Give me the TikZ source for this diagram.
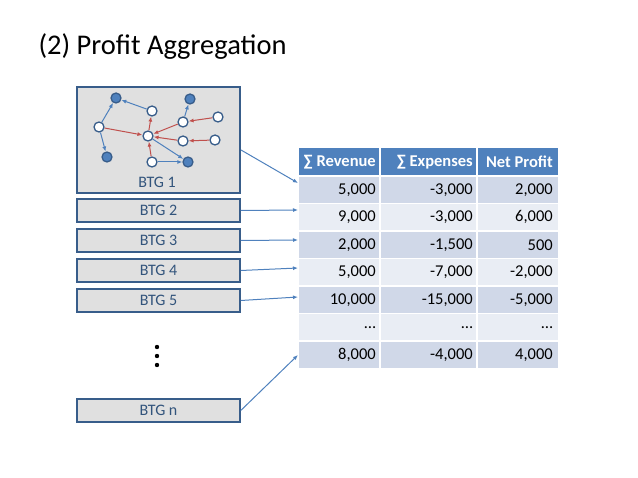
\documentclass[tikz,border=0pt]{standalone}
\usepackage{fontspec}
\setmainfont{Carlito}
\usetikzlibrary{arrows.meta}
\definecolor{hdr}{HTML}{4F81BD}
\definecolor{rowa}{HTML}{D0D8E8}
\definecolor{rowb}{HTML}{E9EDF4}
\definecolor{bord}{HTML}{385D8A}
\definecolor{redl}{HTML}{C0504D}
\begin{document}
\begin{tikzpicture}[x=1pt,y=-1pt,
  btg/.style={draw=bord,line width=1.5pt,fill=black!12,minimum width=163pt,minimum height=23pt,inner sep=0pt,font=\fontsize{16}{18}\selectfont,text=bord!90!black},
  gopen/.style={circle,draw=bord,line width=1.3pt,fill=white,minimum size=10pt,inner sep=0pt},
  gfill/.style={circle,draw=bord,line width=1.3pt,fill=hdr,minimum size=10pt,inner sep=0pt},
  be/.style={draw=hdr,line width=1pt,-{Latex[length=5pt,width=4pt]}},
  re/.style={draw=redl,line width=1pt,-{Latex[length=5pt,width=4pt]}},
  conn/.style={draw=hdr,line width=1pt,-{Latex[length=5pt,width=4pt]}},
  cell/.style={minimum height=26pt,inner sep=0pt,font=\fontsize{16.5}{18}\selectfont}]
\useasboundingbox (0,0) rectangle (638,478);
\node[anchor=west,font=\fontsize{28.5}{32}\selectfont] (title) at (35,47) {(2) Profit Aggregation};
% BTG boxes
\node[btg,minimum height=106pt] (b1) at (158.5,140) {};
\node[font=\fontsize{16}{18}\selectfont,text=bord!90!black] (b1l) at (157,182) {BTG 1};
\node[btg] (b2) at (158.5,210.5) {BTG 2};
\node[btg] (b3) at (158.5,240.5) {BTG 3};
\node[btg] (b4) at (158.5,270.5) {BTG 4};
\node[btg] (b5) at (158.5,300.5) {BTG 5};
\node[btg] (bn) at (158.5,410.5) {BTG n};
\foreach \yy in {347,356,365} \fill (157,\yy) circle (2.2pt);
% graph
\node[gfill] (A) at (116,98) {};
\node[gfill] (B) at (190,99) {};
\node[gopen] (C) at (152,111) {};
\node[gopen] (D) at (218,117) {};
\node[gopen] (E) at (99,127) {};
\node[gopen] (F) at (183,122) {};
\node[gopen] (G) at (148,136) {};
\node[gopen] (H) at (183,141) {};
\node[gopen] (I) at (215,140) {};
\node[gfill] (J) at (107,157) {};
\node[gopen] (K) at (152,162) {};
\node[gfill] (L) at (188,162) {};
\draw[be] (C) -- (A); \draw[be] (E) -- (A); \draw[be] (E) -- (J);
\draw[re] (E) -- (G); \draw[re] (G) -- (C); \draw[be] (F) -- (B);
\draw[re] (D) -- (F); \draw[re] (F) -- (G); \draw[re] (I) -- (H);
\draw[re] (H) -- (G); \draw[re] (K) -- (G); \draw[be] (G) -- (L); \draw[be] (K) -- (L);
% table
\fill[hdr] (299,148) rectangle (558,176);
\foreach \r in {0,...,6}{
  \pgfmathsetmacro\ya{176+\r*27.5}
  \ifodd\r \fill[rowb] (299,\ya) rectangle (558,\ya+27.5); \else \fill[rowa] (299,\ya) rectangle (558,\ya+27.5); \fi
}
\foreach \xx in {380,477} \draw[white,line width=1.2pt] (\xx,148) -- (\xx,368.5);
\foreach \r in {1,...,6} \draw[white,line width=1.2pt] (299,176+\r*27.5) -- (558,176+\r*27.5);
\draw[white,line width=2pt] (299,176) -- (558,176);
\node[cell,text=white,font=\bfseries\fontsize{16.5}{18}\selectfont,anchor=east] (h1) at (376,162) {∑ Revenue};
\node[cell,text=white,font=\bfseries\fontsize{16.5}{18}\selectfont,anchor=east] (h2) at (473,162) {∑ Expenses};
\node[cell,text=white,font=\bfseries\fontsize{16.5}{18}\selectfont,anchor=east] (h3) at (553,162) {Net Profit};
\foreach \a/\b/\c [count=\r from 0] in {{5,000}/{-3,000}/{2,000}, {9,000}/{-3,000}/{6,000}, {2,000}/{-1,500}/{500}, {5,000}/{-7,000}/{-2,000}, {10,000}/{-15,000}/{-5,000}, {…}/{…}/{…}, {8,000}/{-4,000}/{4,000}}{
  \pgfmathsetmacro\yc{189.75+\r*27.5}
  \node[cell,anchor=east] (r\r a) at (376,\yc) {\a};
  \node[cell,anchor=east] (r\r b) at (473,\yc) {\b};
  \node[cell,anchor=east] (r\r c) at (553,\yc) {\c};
}
% connectors
\coordinate (t1) at (298,183); \coordinate (t2) at (298,210);
\coordinate (t3) at (298,240); \coordinate (t4) at (298,268);
\coordinate (t5) at (298,297); \coordinate (tn) at (298,355);
\coordinate (s1) at (241,150);
\draw[conn] (s1) -- (t1);
\draw[conn] (b2.east) -- (t2);
\draw[conn] (b3.east) -- (t3);
\draw[conn] (b4.east) -- (t4);
\draw[conn] (b5.east) -- (t5);
\draw[conn] (bn.east) -- (tn);
\end{tikzpicture}
\end{document}
